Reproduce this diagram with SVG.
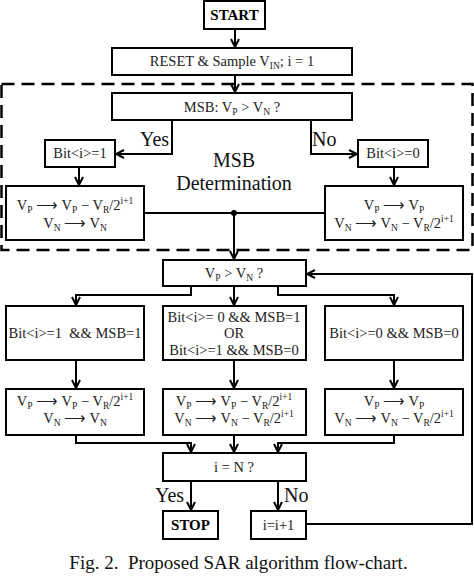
<svg xmlns="http://www.w3.org/2000/svg" width="474" height="576" viewBox="0 0 474 576">
<style>
.box{fill:#fff;stroke:#000;stroke-width:2}
.t{font-size:14.5px;fill:#222;text-anchor:middle}
.b{font-weight:bold;font-size:15px;fill:#000}
.lbl{font-size:20px;fill:#111}
.c{fill:none;stroke:#000;stroke-width:2}
.s{font-size:9.5px}
</style>
<defs>
<marker id="ah" viewBox="0 0 10 10" refX="9" refY="5" markerWidth="10" markerHeight="10" markerUnits="userSpaceOnUse" orient="auto">
<path d="M1,1 L9,5 L1,9" fill="none" stroke="#000" stroke-width="2"/>
</marker>
</defs>
<rect x="1.5" y="84" width="471" height="166" fill="none" stroke="#000" stroke-width="2.5" stroke-dasharray="13 7"/>
<g font-family="Liberation Serif, Times New Roman, serif">
<g id="connectors">
<path class="c" d="M235,29 V47" marker-end="url(#ah)"/>
<path class="c" d="M235,75 V92" marker-end="url(#ah)"/>
<path class="c" d="M172,120 V154 H116" marker-end="url(#ah)"/>
<path class="c" d="M311,120 V154 H357" marker-end="url(#ah)"/>
<path class="c" d="M79,167 V185" marker-end="url(#ah)"/>
<path class="c" d="M394,167 V185" marker-end="url(#ah)"/>
<path class="c" d="M144,213 H325"/>
<circle cx="234" cy="213" r="3" fill="#000"/>
<path class="c" d="M234,213 V259" marker-end="url(#ah)"/>
<path class="c" d="M191,286 V295 H76 V305" marker-end="url(#ah)"/>
<path class="c" d="M234,286 V305" marker-end="url(#ah)"/>
<path class="c" d="M278,286 V295 H394 V305" marker-end="url(#ah)"/>
<path class="c" d="M76,360 V388" marker-end="url(#ah)"/>
<path class="c" d="M234,360 V388" marker-end="url(#ah)"/>
<path class="c" d="M394,360 V388" marker-end="url(#ah)"/>
<path class="c" d="M76,435 V443 H191 V452" marker-end="url(#ah)"/>
<path class="c" d="M234,435 V452" marker-end="url(#ah)"/>
<path class="c" d="M394,435 V443 H278 V452" marker-end="url(#ah)"/>
<path class="c" d="M191,481 V510" marker-end="url(#ah)"/>
<path class="c" d="M278,481 V510" marker-end="url(#ah)"/>
<path class="c" d="M306,524 H472 V274 H307" marker-end="url(#ah)"/>
<text class="lbl" x="140" y="146">Yes</text>
<text class="lbl" x="312" y="146">No</text>
<text class="lbl" x="155" y="502">Yes</text>
<text class="lbl" x="284" y="502">No</text>
</g>
<g id="start"><rect class="box" x="204" y="1" width="61" height="28"/><text class="t b" x="234.5" y="20">START</text></g>
<g id="reset"><rect class="box" x="112" y="48" width="240" height="27"/><text class="t" x="232" y="66">RESET &amp; Sample V<tspan class="s" dy="3">IN</tspan><tspan dy="-3">; i = 1</tspan></text></g>
<g id="msb"><rect class="box" x="112" y="93" width="240" height="27"/><text class="t" x="232" y="112">MSB: V<tspan class="s" dy="3">P</tspan><tspan dy="-3"> &gt; V</tspan><tspan class="s" dy="3">N</tspan><tspan dy="-3"> ?</tspan></text></g>
<g id="bit1"><rect class="box" x="45" y="140" width="70" height="27"/><text class="t" x="80" y="158">Bit&lt;i&gt;=1</text></g>
<g id="bit0"><rect class="box" x="358" y="140" width="70" height="27"/><text class="t" x="393" y="158">Bit&lt;i&gt;=0</text></g>
<g id="msbdet"><text class="lbl" x="234" y="167" text-anchor="middle">MSB</text><text class="lbl" x="234" y="190" text-anchor="middle">Determination</text></g>
<g id="msbleft"><rect class="box" x="6" y="186" width="138" height="54"/>
<text class="t" x="75" y="210">V<tspan class="s" dy="3">P</tspan><tspan dy="-3"> ⟶ V</tspan><tspan class="s" dy="3">P</tspan><tspan dy="-3"> − V</tspan><tspan class="s" dy="3">R</tspan><tspan dy="-3">/2</tspan><tspan class="s" dy="-6">i+1</tspan></text>
<text class="t" x="75" y="228">V<tspan class="s" dy="3">N</tspan><tspan dy="-3"> ⟶ V</tspan><tspan class="s" dy="3">N</tspan></text></g>
<g id="msbright"><rect class="box" x="325" y="186" width="138" height="54"/>
<text class="t" x="394" y="210">V<tspan class="s" dy="3">P</tspan><tspan dy="-3"> ⟶ V</tspan><tspan class="s" dy="3">P</tspan></text>
<text class="t" x="394" y="228">V<tspan class="s" dy="3">N</tspan><tspan dy="-3"> ⟶ V</tspan><tspan class="s" dy="3">N</tspan><tspan dy="-3"> − V</tspan><tspan class="s" dy="3">R</tspan><tspan dy="-3">/2</tspan><tspan class="s" dy="-6">i+1</tspan></text></g>
<g id="cmp"><rect class="box" x="163" y="260" width="143" height="26"/><text class="t" x="234" y="278">V<tspan class="s" dy="3">P</tspan><tspan dy="-3"> &gt; V</tspan><tspan class="s" dy="3">N</tspan><tspan dy="-3"> ?</tspan></text></g>
<g id="c1"><rect class="box" x="6" y="306" width="138" height="54"/><text class="t" x="75" y="338" xml:space="preserve">Bit&lt;i&gt;=1  &amp;&amp; MSB=1</text></g>
<g id="c2"><rect class="box" x="163" y="306" width="143" height="54"/><text class="t" x="234" y="322">Bit&lt;i&gt;= 0 &amp;&amp; MSB=1</text><text class="t" x="234" y="338">OR</text><text class="t" x="234" y="355">Bit&lt;i&gt;=1 &amp;&amp; MSB=0</text></g>
<g id="c3"><rect class="box" x="325" y="306" width="138" height="54"/><text class="t" x="394" y="338">Bit&lt;i&gt;=0 &amp;&amp; MSB=0</text></g>
<g id="u1"><rect class="box" x="6" y="389" width="138" height="46"/>
<text class="t" x="75" y="406">V<tspan class="s" dy="3">P</tspan><tspan dy="-3"> ⟶ V</tspan><tspan class="s" dy="3">P</tspan><tspan dy="-3"> − V</tspan><tspan class="s" dy="3">R</tspan><tspan dy="-3">/2</tspan><tspan class="s" dy="-6">i+1</tspan></text>
<text class="t" x="75" y="423">V<tspan class="s" dy="3">N</tspan><tspan dy="-3"> ⟶ V</tspan><tspan class="s" dy="3">N</tspan></text></g>
<g id="u2"><rect class="box" x="163" y="389" width="143" height="46"/>
<text class="t" x="234" y="406">V<tspan class="s" dy="3">P</tspan><tspan dy="-3"> ⟶ V</tspan><tspan class="s" dy="3">P</tspan><tspan dy="-3"> − V</tspan><tspan class="s" dy="3">R</tspan><tspan dy="-3">/2</tspan><tspan class="s" dy="-6">i+1</tspan></text>
<text class="t" x="234" y="423">V<tspan class="s" dy="3">N</tspan><tspan dy="-3"> ⟶ V</tspan><tspan class="s" dy="3">N</tspan><tspan dy="-3"> − V</tspan><tspan class="s" dy="3">R</tspan><tspan dy="-3">/2</tspan><tspan class="s" dy="-6">i+1</tspan></text></g>
<g id="u3"><rect class="box" x="325" y="389" width="138" height="46"/>
<text class="t" x="394" y="406">V<tspan class="s" dy="3">P</tspan><tspan dy="-3"> ⟶ V</tspan><tspan class="s" dy="3">P</tspan></text>
<text class="t" x="394" y="423">V<tspan class="s" dy="3">N</tspan><tspan dy="-3"> ⟶ V</tspan><tspan class="s" dy="3">N</tspan><tspan dy="-3"> − V</tspan><tspan class="s" dy="3">R</tspan><tspan dy="-3">/2</tspan><tspan class="s" dy="-6">i+1</tspan></text></g>
<g id="iN"><rect class="box" x="163" y="453" width="143" height="28"/><text class="t" x="234" y="472">i = N ?</text></g>
<g id="stop"><rect class="box" x="163" y="511" width="55" height="28"/><text class="t b" x="190.5" y="530">STOP</text></g>
<g id="inc"><rect class="box" x="251" y="511" width="55" height="28"/><text class="t" x="278.5" y="530">i=i+1</text></g>
<text x="238.5" y="569" font-size="19" fill="#111" text-anchor="middle" xml:space="preserve">Fig. 2.  Proposed SAR algorithm flow-chart.</text>
</g>
</svg>
